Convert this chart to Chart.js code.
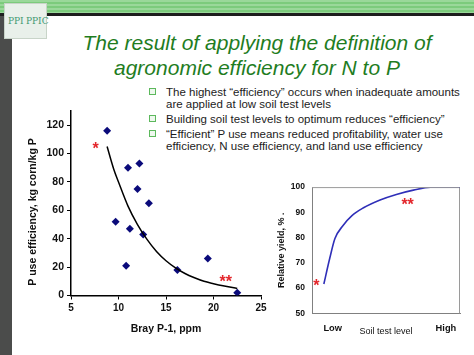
<!DOCTYPE html>
<html>
<head>
<meta charset="utf-8">
<script src="https://cdn.jsdelivr.net/npm/chart.js@4/dist/chart.umd.min.js"></script>
<style>
  html, body { margin:0; padding:0; }
  body { width:474px; height:355px; position:relative; overflow:hidden; background:#fff; font-family:"Liberation Sans", Arial, sans-serif; }
  #banner { position:absolute; left:0; top:0; width:474px; height:13px;
    background:repeating-linear-gradient(180deg,#9ad89a 0px,#9ad89a 2px,#7ccb7c 2px,#7ccb7c 4px); }
  #bline { position:absolute; left:0; top:13px; width:474px; height:3px; background:#1d1d1d; }
  #sidebar { position:absolute; left:0; top:16px; width:12px; height:339px; background:#4b4c4b; }
  #logo { position:absolute; left:4px; top:3px; width:43px; height:36px; background:#e9f0ea; border:1px solid #c8d4c8; box-sizing:border-box;
    font-family:"DejaVu Serif", serif; color:#3f9a74; font-size:9px; line-height:10px; }
  #logo span { position:absolute; top:12px; }
  #title { position:absolute; left:40px; top:30px; width:434px; text-align:center; color:#1f7d1f; font-style:italic; font-size:21px; line-height:25px; }
  .bl { position:absolute; left:166px; font-size:11.5px; color:#1c1c1c; white-space:nowrap; line-height:12px; }
  .bx { position:absolute; left:149px; width:5px; height:5px; border:1px solid #5cb85c; background:#eef8ee; }
  canvas { position:absolute; }
</style>
</head>
<body>
<div id="banner"></div>
<div id="bline"></div>
<div id="sidebar"></div>
<div id="logo"><span style="left:3px">PPI</span><span style="left:21px">PPIC</span></div>
<div id="title">The result of applying the definition of<br>agronomic efficiency for N to P</div>

<div class="bx" style="top:88px"></div>
<div class="bl" style="top:86px">The highest “efficiency” occurs when inadequate amounts</div>
<div class="bl" style="top:98px">are applied at low soil test levels</div>
<div class="bx" style="top:115px"></div>
<div class="bl" style="top:113px">Building soil test levels to optimum reduces “efficiency”</div>
<div class="bx" style="top:130px"></div>
<div class="bl" style="top:128px">“Efficient” P use means reduced profitability, water use</div>
<div class="bl" style="top:140px">efficiency, N use efficiency, and land use efficiency</div>

<canvas id="left" width="280" height="245" style="left:0px;top:100px;width:280px;height:245px"></canvas>
<canvas id="right" width="204" height="170" style="left:270px;top:175px;width:204px;height:170px"></canvas>

<script>
// ---- Left chart data (Bray P-1 ppm vs P use efficiency) ----
const brayP = [8.8, 11.0, 12.2, 12.0, 13.2, 9.7, 11.2, 12.6, 10.8, 16.2, 19.4, 22.5];
const pUseEff = [116, 90, 93, 75, 65, 52, 47, 43, 21, 18, 26, 2];
const trendBray = [8.8, 9.5, 10, 11, 12, 13, 14, 15, 16, 17, 18, 19, 20, 21, 22.5];
const trendEff = [105, 89, 80, 63, 50, 39.5, 31, 24.5, 19.5, 15.5, 12.5, 10, 8.3, 6.8, 5];
const leftStarX = [7.6, 21.3];
const leftStarY = [106, 12];
const leftStarText = ['*', '**'];

// ---- Right chart data (soil test level vs relative yield) ----
const soilLevel = [0.8, 1.2, 1.55, 2.1, 2.7, 3.45, 4.6, 5.7, 6.85, 8, 10];
const relYield = [61.6, 71.8, 79.6, 84.8, 88.7, 91.7, 94.9, 97.1, 98.8, 100, 100];
const soilTickPos = [1.4, 9.05];
const soilTickLabels = ['Low', 'High'];
const rightStarX = [0.3, 6.46];
const rightStarY = [62.4, 94.5];
const rightStarText = ['*', '**'];

const FONT = '"Liberation Sans", Arial, sans-serif';

const starPlugin = {
  id: 'stars',
  afterDatasetsDraw(chart, args, o) {
    const {ctx, scales} = chart;
    ctx.save();
    ctx.fillStyle = '#e3262b';
    ctx.font = o.font;
    ctx.textAlign = 'center';
    ctx.textBaseline = 'alphabetic';
    o.xs.forEach((v, i) => {
      ctx.fillText(o.texts[i], scales.x.getPixelForValue(v), scales.y.getPixelForValue(o.ys[i]) + o.shift);
    });
    ctx.restore();
  }
};
const framePlugin = {
  id: 'frame',
  afterDraw(chart, args, o) {
    if (!o.show) return;
    const {ctx, chartArea: a} = chart;
    ctx.save();
    ctx.strokeStyle = '#9a9a9a';
    ctx.lineWidth = 1;
    ctx.beginPath();
    ctx.moveTo(a.left, a.top + 0.5); ctx.lineTo(a.right - 0.5, a.top + 0.5); ctx.lineTo(a.right - 0.5, a.bottom);
    ctx.stroke();
    ctx.restore();
  }
};

new Chart(document.getElementById('left'), {
  type: 'scatter',
  data: {
    datasets: [
      { data: trendBray.map((x, i) => ({x, y: trendEff[i]})), showLine: true, borderColor: '#000', borderWidth: 1.5,
        pointRadius: 0, cubicInterpolationMode: 'monotone', fill: false },
      { data: brayP.map((x, i) => ({x, y: pUseEff[i]})), pointStyle: 'rectRot', pointRadius: 4,
        backgroundColor: '#0a0a7a', borderColor: '#0a0a7a', borderWidth: 0, showLine: false }
    ]
  },
  options: {
    responsive: false, animation: false, devicePixelRatio: 1,
    layout: { padding: { top: 11, right: 19, left: 0, bottom: 0 } },
    plugins: { legend: { display: false }, tooltip: { enabled: false },
      stars: { xs: leftStarX, ys: leftStarY, texts: leftStarText, font: 'bold 16px ' + FONT, shift: 9 },
      frame: { show: false } },
    scales: {
      x: { type: 'linear', min: 5, max: 25,
        afterFit(s) { s.height = 49.5; },
        border: { color: '#000', width: 1.5 },
        grid: { display: true, drawOnChartArea: false, tickLength: 4, color: '#000', lineWidth: 1 },
        ticks: { stepSize: 5, color: '#111', font: { family: FONT, size: 10, weight: 'bold' }, padding: 3, maxRotation: 0 },
        title: { display: true, text: 'Bray P-1, ppm', color: '#111', font: { family: FONT, size: 10.5, weight: 'bold' }, padding: { top: 0, bottom: 10 } }
      },
      y: { type: 'linear', min: 0, max: 130,
        afterFit(s) { s.width = 71; },
        afterBuildTicks(s) { s.ticks = s.ticks.filter(t => t.value <= 120); },
        border: { color: '#000', width: 1.5 },
        grid: { display: true, drawOnChartArea: false, tickLength: 4, color: '#000', lineWidth: 1 },
        ticks: { stepSize: 20, color: '#111', font: { family: FONT, size: 10.5, weight: 'bold' }, padding: 3 },
        title: { display: true, text: 'P use efficiency, kg corn/kg P      ', color: '#111', font: { family: FONT, size: 10.5, weight: 'bold' }, padding: { top: 27, bottom: 0 } }
      }
    }
  },
  plugins: [starPlugin, framePlugin]
});

new Chart(document.getElementById('right'), {
  type: 'scatter',
  data: {
    datasets: [
      { data: soilLevel.map((x, i) => ({x, y: relYield[i]})), showLine: true, borderColor: '#2f2fb8', borderWidth: 1.6,
        pointRadius: 0, cubicInterpolationMode: 'monotone', fill: false }
    ]
  },
  options: {
    responsive: false, animation: false, devicePixelRatio: 1,
    layout: { padding: { top: 10, right: 14, left: 0, bottom: 0 } },
    plugins: { legend: { display: false }, tooltip: { enabled: false },
      stars: { xs: rightStarX, ys: rightStarY, texts: rightStarText, font: 'bold 16px ' + FONT, shift: 9 },
      frame: { show: true } },
    scales: {
      x: { type: 'linear', min: 0, max: 10,
        afterFit(s) { s.height = 31.7; },
        afterBuildTicks(s) { s.ticks = soilTickPos.map(v => ({ value: v })); },
        border: { color: '#808080', width: 1 },
        grid: { display: false, drawTicks: false },
        ticks: { color: '#111', font: { family: FONT, size: 9.3, weight: 'bold' }, padding: 10, maxRotation: 0, autoSkip: false,
          callback(v) { const i = soilTickPos.indexOf(v); return i >= 0 ? soilTickLabels[i] : ''; } },
        title: { display: true, text: 'Soil test level', color: '#111', font: { family: FONT, size: 9 }, padding: { top: 0, bottom: 8 } }
      },
      y: { type: 'linear', min: 50, max: 100,
        afterFit(s) { s.width = 42; },
        border: { color: '#808080', width: 1 },
        grid: { display: false, drawTicks: false },
        ticks: { stepSize: 10, color: '#111', font: { family: FONT, size: 8.5, weight: 'bold' }, padding: 7 },
        title: { display: true, text: 'Relative yield, % .', color: '#111', font: { family: FONT, size: 9, weight: 'bold' }, padding: { top: 6, bottom: 0 } }
      }
    }
  },
  plugins: [starPlugin, framePlugin]
});
</script>
</body>
</html>
